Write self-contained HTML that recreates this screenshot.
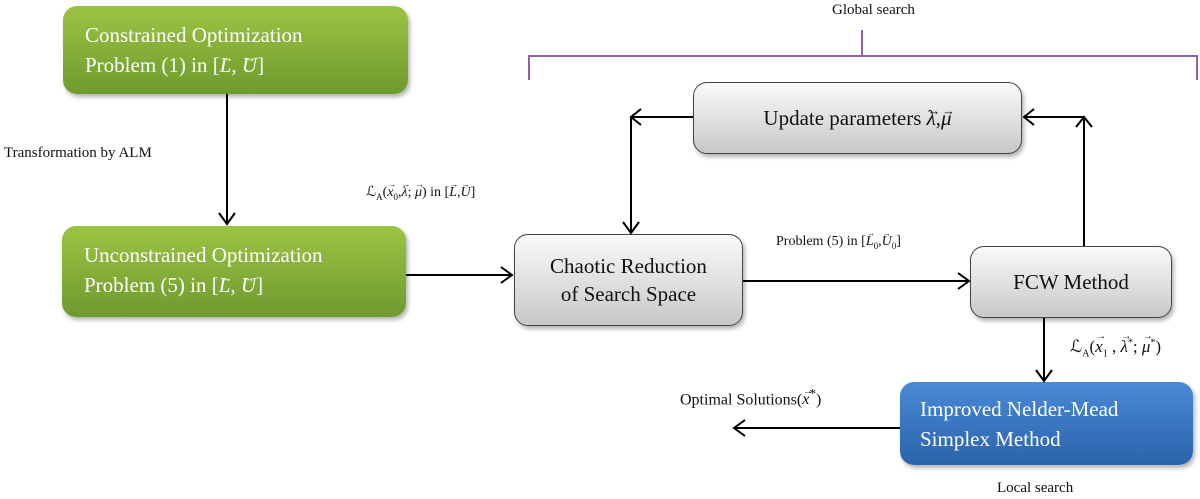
<!DOCTYPE html>
<html><head><meta charset="utf-8"><style>
body{margin:0;width:1200px;height:499px;background:#fff;position:relative;overflow:hidden;font-family:"Liberation Serif",serif;}
.b{position:absolute;box-sizing:border-box;border-radius:14px;}
.g{background:linear-gradient(#9cc443,#6f9a2e);color:#fff;font-size:21px;line-height:30px;padding:14px 0 0 22px;box-shadow:2px 3px 4px rgba(0,0,0,.3);}
.gr{background:linear-gradient(#fafafa,#c8c8c8);border:1.5px solid #444;color:#111;font-size:21px;text-align:center;display:flex;align-items:center;justify-content:center;line-height:28px;box-shadow:2px 3px 4px rgba(0,0,0,.3);}
.bl{background:linear-gradient(#4a8ad6,#2a63ab);color:#fff;font-size:21px;line-height:30px;padding:12px 0 0 20px;box-shadow:2px 3px 4px rgba(0,0,0,.3);}
.t{position:absolute;font-size:15px;color:#111;white-space:nowrap;}
.v{position:relative;display:inline-block;font-style:italic;}
.v::before{content:"→";position:absolute;left:10%;top:-0.55em;font-size:0.6em;font-style:normal;}
</style></head><body>
<div class="b g" style="left:63px;top:6px;width:345px;height:88px;">Constrained Optimization<br>Problem (1) in [<span class="v">L</span>, <span class="v">U</span>]</div>
<div class="b g" style="left:62px;top:226px;width:344px;height:91px;">Unconstrained Optimization<br>Problem (5) in [<span class="v">L</span>, <span class="v">U</span>]</div>
<div class="b gr" style="left:514px;top:234px;width:229px;height:92px;">Chaotic Reduction<br>of Search Space</div>
<div class="b gr" style="left:693px;top:82px;width:329px;height:72px;">Update parameters&nbsp;<span class="v">λ</span>, <span class="v">μ</span></div>
<div class="b gr" style="left:970px;top:246px;width:202px;height:72px;">FCW Method</div>
<div class="b bl" style="left:900px;top:382px;width:293px;height:83px;">Improved Nelder-Mead<br>Simplex Method</div>
<div class="t" style="left:4px;top:145px;">Transformation by ALM</div>
<div class="t" style="left:366px;top:184px;font-size:14px;">ℒ<sub style="font-size:9px">A</sub>(<span class="v">x</span><sub style="font-size:9px">0</sub>,<span class="v">λ</span>; <span class="v">μ</span>) in [<span class="v">L</span>,<span class="v">U</span>]</div>
<div class="t" style="left:776px;top:234px;font-size:14px;">Problem (5) in [<span class="v">L</span><sub style="font-size:9px">0</sub>,<span class="v">U</span><sub style="font-size:9px">0</sub>]</div>
<div class="t" style="left:1070px;top:337px;font-size:17px;">ℒ<sub style="font-size:10px">A</sub>(<span class="v">x</span><sub style="font-size:10px">1</sub> , <span class="v">λ</span><sup style="font-size:10px">*</sup>; <span class="v">μ</span><sup style="font-size:10px">*</sup>)</div>
<div class="t" style="left:680px;top:386px;font-size:16px;">Optimal Solutions(<span class="v">x</span><sup>*</sup>)</div>
<div class="t" style="left:832px;top:2px;">Global search</div>
<div class="t" style="left:997px;top:480px;">Local search</div>
<svg width="1200" height="499" style="position:absolute;left:0;top:0" fill="none">
<g stroke="#8a63b0" stroke-width="2"><path d="M529 80V56H1197V80M862 56V30"/></g>
<g stroke="#000" stroke-width="2">
<path d="M227 94V223M219 213l8 11 8-11"/>
<path d="M406 275H511M501 267l11 8-11 8"/>
<path d="M743 281H968M958 273l11 8-11 8"/>
<path d="M693 117H631M641 109l-10 8 10 8M631 117V232M623 222l8 11 8-11"/>
<path d="M1084 246V117M1076 127l8-10 8 10M1084 117H1024M1034 109l-10 8 10 8"/>
<path d="M1044 318V380M1036 370l8 11 8-11"/>
<path d="M900 428H734M745 420l-11 8 11 8"/>
</g></svg>
</body></html>
